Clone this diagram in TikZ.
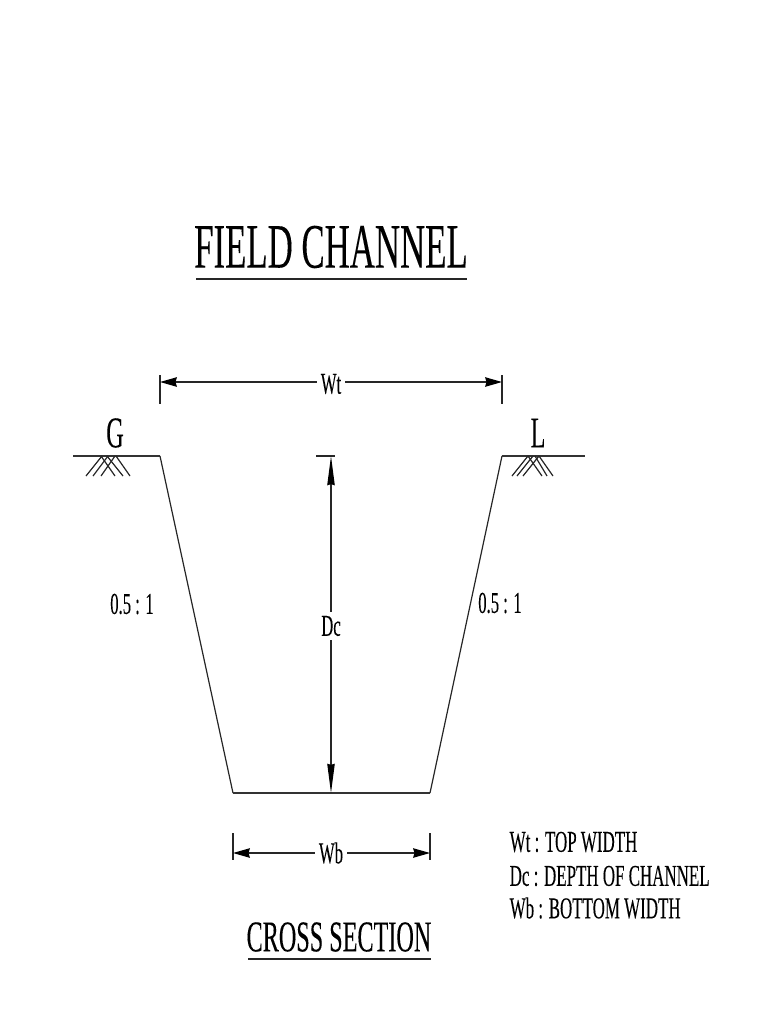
\documentclass[tikz,border=0pt]{standalone}
\usepackage{fontspec}
\newfontfamily\cadfont[FakeStretch=0.55,FakeBold=0.12]{Liberation Serif}
\newfontfamily\legendfont[FakeStretch=0.56,FakeBold=0.12]{Liberation Serif}
\usetikzlibrary{arrows.meta}
\tikzset{
  dimtip/.style={-{Stealth[length=4.8pt,width=2.7pt,inset=0.4pt,black]}},
  longtip/.style={-{Stealth[length=8.3pt,width=2.1pt,inset=0.3pt,black]}},
  thin line/.style={line width=0.12mm, black!85},
  thick line/.style={line width=0.2mm, black!80},
  dimtext/.style={inner sep=1pt, font=\cadfont\fontsize{8.6}{10}\selectfont},
  legendtext/.style={anchor=west, inner sep=0pt, font=\legendfont\fontsize{8.6}{10}\selectfont},
  bigtext/.style={inner sep=0pt, font=\cadfont\fontsize{12.5}{14}\selectfont}
}
\begin{document}
\begin{tikzpicture}[x=0.01cm,y=-0.01cm]
\useasboundingbox (0,0) rectangle (768,1024);

% section outline
\coordinate (gl) at (73,456);
\coordinate (G) at (160,456);
\coordinate (P) at (233,793);
\coordinate (Q) at (430,793);
\coordinate (L) at (502,456);
\coordinate (lr) at (585,456);

\draw[thick line] (gl) to (G);
\draw[thin line] (G) to (P);
\draw[thick line] (P) to (Q);
\draw[thin line] (Q) to (L);
\draw[thick line] (L) to (lr);

% ground hatching
\foreach \a/\b in {102/86,108/93,115/101,101/115,107/123,116/130,528/512,533/517,539/523,528/542,535/547,539/553}{
  \draw[thin line] (\a,456) to (\b,476);
}

% top width
\coordinate (wt1a) at (160,375);
\coordinate (wt1b) at (160,404);
\coordinate (wt2a) at (502,375);
\coordinate (wt2b) at (502,404);
\coordinate (wt1) at (160,382);
\coordinate (wt2) at (502,382);
\node[dimtext] (wt) at (331,384){Wt};
\draw[thin line] (wt1a) to (wt1b);
\draw[thin line] (wt2a) to (wt2b);
\draw[thin line, dimtip] (wt.west |- wt1) to (wt1);
\draw[thin line, dimtip] (wt.east |- wt2) to (wt2);

% depth
\coordinate (dc1a) at (316,456);
\coordinate (dc1b) at (335,456);
\coordinate (dc1) at (331,456);
\coordinate (dc2) at (331,793);
\node[dimtext] (dc) at (331,626){Dc};
\draw[thin line] (dc1a) to (dc1b);
\draw[thin line, longtip] (dc.north) to (dc1);
\draw[thin line, longtip] (dc.south) to (dc2);

% bottom width
\coordinate (wb1a) at (233,833);
\coordinate (wb1b) at (233,860);
\coordinate (wb2a) at (430,833);
\coordinate (wb2b) at (430,860);
\coordinate (wb1) at (233,853);
\coordinate (wb2) at (430,853);
\node[dimtext] (wb) at (331,853){Wb};
\draw[thin line] (wb1a) to (wb1b);
\draw[thin line] (wb2a) to (wb2b);
\draw[thin line, dimtip] (wb.west |- wb1) to (wb1);
\draw[thin line, dimtip] (wb.east |- wb2) to (wb2);

% labels
\node[bigtext] (glabel) at (115,433){G};
\node[bigtext] (llabel) at (538,433){L};
\node[dimtext] (slope1) at (132,604){0.5 : 1};
\node[dimtext] (slope2) at (500,603){0.5 : 1};

\node[legendtext] (leg1) at (509,842){Wt : TOP WIDTH};
\node[legendtext] (leg2) at (509,876){Dc : DEPTH OF CHANNEL};
\node[legendtext] (leg3) at (509,908){Wb : BOTTOM WIDTH};

% titles
\node[inner sep=0pt, font=\cadfont\fontsize{18}{20}\selectfont] (title) at (331,247){FIELD CHANNEL};
\coordinate (t1) at (196,279);
\coordinate (t2) at (467,279);
\draw[thin line] (t1) to (t2);

\node[bigtext] (cross) at (339,937){CROSS SECTION};
\coordinate (c1) at (248,959);
\coordinate (c2) at (431,959);
\draw[thin line] (c1) to (c2);

\end{tikzpicture}
\end{document}
